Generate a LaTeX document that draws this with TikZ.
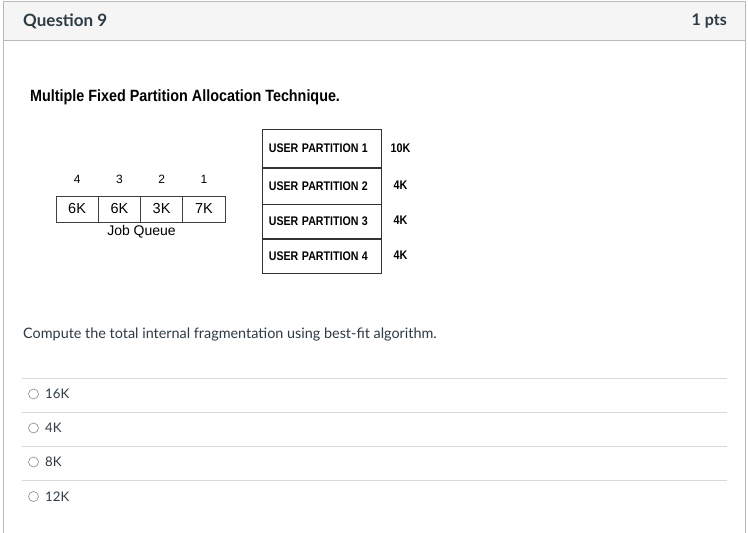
\documentclass[tikz,border=0pt]{standalone}
\usepackage{graphicx}
\usepackage{fontspec}
\setmainfont{Lato}
\newfontfamily\arial{Liberation Sans}
\definecolor{txt}{HTML}{2D3B45}
\definecolor{hdrfill}{HTML}{F5F5F5}
\definecolor{frame}{HTML}{B8B8B8}
\definecolor{sepline}{HTML}{D9D9D9}
\definecolor{radio}{HTML}{8A8A8A}
\begin{document}
\begin{tikzpicture}[x=1pt,y=-1pt,
  hdr/.style={font=\bfseries\fontsize{17}{20}\selectfont, text=txt, inner sep=0pt},
  body/.style={font=\fontsize{14.4}{17}\selectfont, text=txt, inner sep=0pt, anchor=west},
  answer/.style={font=\fontsize{13.2}{16}\selectfont, text=txt, inner sep=0pt, anchor=west},
  qcell/.style={draw=black!75, line width=0.8pt, minimum width=42.25pt, minimum height=26pt, inner sep=0pt, font=\arial\fontsize{14.5}{17}\selectfont},
  qnum/.style={inner sep=0pt, font=\arial\fontsize{12}{14}\selectfont},
  prow/.style={draw=black!80, line width=0.8pt, minimum width=119pt, inner xsep=6.5pt, inner ysep=0pt, text width=106pt, align=left, font=\arial\bfseries\fontsize{12.5}{14}\selectfont},
  psize/.style={inner sep=0pt, font=\arial\bfseries\fontsize{12.5}{14}\selectfont},
  radiobtn/.style={circle, draw=radio, line width=0.6pt, fill=white, minimum size=10pt, inner sep=0pt},
  sepln/.style={draw=sepline, line width=0.8pt}]
\useasboundingbox (0,0) rectangle (748,533);
\fill[white] (0,0) rectangle (748,533);
% frame and header
\filldraw[fill=hdrfill, draw=frame, line width=0.9pt] (3.5,1) rectangle (745,40.5);
\draw[frame, line width=0.9pt] (3.5,40.5) -- (3.5,533);
\draw[frame, line width=0.9pt] (745,40.5) -- (745,533);
\node[hdr, anchor=west] (q) at (23,21) {Question 9};
\node[hdr, anchor=east, font=\bfseries\fontsize{16}{19}\selectfont] (pts) at (727,21) {1 pts};
% title
\node[anchor=west, inner sep=0pt, font=\arial\bfseries\fontsize{16.3}{19}\selectfont] (title) at (30,97.5)
  {\scalebox{0.88}[1]{Multiple Fixed Partition Allocation Technique.}};
% job queue
\node[qnum] (n4) at (77.1,179.3) {4};
\node[qnum] (n3) at (119.4,179.3) {3};
\node[qnum] (n2) at (161.6,179.3) {2};
\node[qnum] (n1) at (203.9,179.3) {1};
\node[qcell] (c4) at (77.1,209) {6K};
\node[qcell] (c3) at (119.4,209) {6K};
\node[qcell] (c2) at (161.6,209) {3K};
\node[qcell] (c1) at (203.9,209) {7K};
\node[inner sep=0pt, font=\arial\fontsize{14}{17}\selectfont] (jq) at (141.5,231.5) {Job Queue};
% partitions
\node[prow, minimum height=37.7pt, anchor=north west] (p1) at (262,129) {\scalebox{0.85}[1]{USER PARTITION 1}};
\node[prow, minimum height=36pt, anchor=north west] (p2) at (p1.south west) {\scalebox{0.85}[1]{USER PARTITION 2}};
\node[prow, minimum height=34pt, anchor=north west] (p3) at (p2.south west) {\scalebox{0.85}[1]{USER PARTITION 3}};
\node[prow, minimum height=34.3pt, anchor=north west] (p4) at (p3.south west) {\scalebox{0.85}[1]{USER PARTITION 4}};
\node[psize] (s1) at (400.5,148) {\scalebox{0.86}[1]{10K}};
\node[psize] (s2) at (400.5,185) {\scalebox{0.86}[1]{4K}};
\node[psize] (s3) at (400.5,220) {\scalebox{0.86}[1]{4K}};
\node[psize] (s4) at (400.5,255) {\scalebox{0.86}[1]{4K}};
% question text
\node[body] (ask) at (23,334.5) {Compute the total internal fragmentation using best-fit algorithm.};
% answers
\draw[sepln] (22,378.5) -- (727,378.5);
\draw[sepln] (22,412.5) -- (727,412.5);
\draw[sepln] (22,446.5) -- (727,446.5);
\draw[sepln] (22,480.5) -- (727,480.5);
\node[radiobtn] (r1) at (33.5,394) {};
\node[radiobtn] (r2) at (33.5,428) {};
\node[radiobtn] (r3) at (33.5,462) {};
\node[radiobtn] (r4) at (33.5,496.5) {};
\node[answer] (a1) at (45,394) {16K};
\node[answer] (a2) at (45,428) {4K};
\node[answer] (a3) at (45,462) {8K};
\node[answer] (a4) at (45,496.5) {12K};
\end{tikzpicture}
\end{document}
